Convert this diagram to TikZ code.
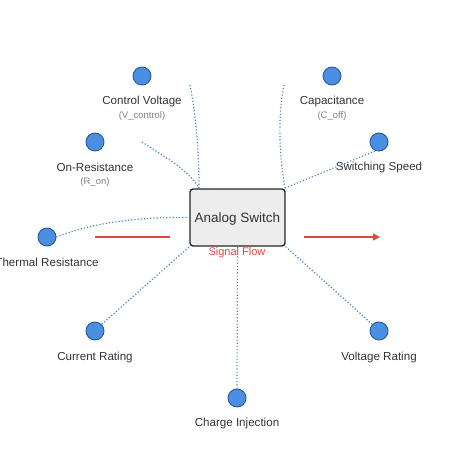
\documentclass[tikz,border=0pt]{standalone}
\usepackage{fontspec}
\setmainfont{Liberation Sans}
\usetikzlibrary{arrows.meta}
\definecolor{dotblue}{HTML}{4F86C6}
\definecolor{circfill}{HTML}{4A8FE2}
\definecolor{circedge}{HTML}{2A5A96}
\definecolor{sigred}{HTML}{E0483A}
\definecolor{txt}{HTML}{333333}
\definecolor{subtxt}{HTML}{808080}
\tikzset{
  param/.style={circle, draw=circedge, fill=circfill, line width=0.9pt, minimum size=18pt, inner sep=0pt},
  lbl/.style={text=txt, font=\fontsize{11.6}{13}\selectfont, inner sep=0pt},
  sublbl/.style={text=subtxt, font=\fontsize{9.5}{11}\selectfont, inner sep=0pt},
  link/.style={draw=dotblue, dotted, line width=1.2pt},
  switchbox/.style={draw=black!85, fill=black!7, rounded corners=3pt, line width=1.4pt, minimum width=95pt, minimum height=57pt, text=txt, font=\fontsize{13.5}{15}\selectfont},
  sig/.style={draw=sigred, line width=1.3pt}
}
\begin{document}
\begin{tikzpicture}[x=1pt,y=-1pt]
\useasboundingbox (0,0) rectangle (474,474);
\node[switchbox] (sw) at (237.5,217.5) {};
\node[text=txt, font=\fontsize{13.5}{15}\selectfont, inner sep=0pt] (swt) at (237.5,219.5) {Analog Switch};
\node[text=sigred, font=\fontsize{11}{12}\selectfont, inner sep=0pt] (sf) at (237,253) {Signal Flow};

\node[param] (cv) at (142,76) {};
\node[lbl] (cvl) at (142,101.5) {Control Voltage};
\node[sublbl] (cvs) at (142,116) {(V\_control)};

\node[param] (or) at (95,142) {};
\node[lbl] (orl) at (95,167.5) {On-Resistance};
\node[sublbl] (ors) at (95,182) {(R\_on)};

\node[param] (cap) at (332,76) {};
\node[lbl] (capl) at (332,101.5) {Capacitance};
\node[sublbl] (caps) at (332,116) {(C\_off)};

\node[param] (ss) at (379,142) {};
\node[lbl] (ssl) at (379,167.5) {Switching Speed};

\node[param] (tr) at (47,237) {};
\node[lbl] (trl) at (47,262.5) {Thermal Resistance};

\node[param] (cr) at (95,331) {};
\node[lbl] (crl) at (95,357.5) {Current Rating};

\node[param] (vr) at (379,331) {};
\node[lbl] (vrl) at (379,357.5) {Voltage Rating};

\node[param] (ci) at (237,398) {};
\node[lbl] (cil) at (237,423.5) {Charge Injection};

\coordinate (cvstart) at (190,85);
\coordinate (orstart) at (142,142);
\coordinate (capstart) at (284,85);
\coordinate (ssstart) at (378,150);
\coordinate (swtl) at (199,188);
\coordinate (swtr) at (285,188);

\path[link] (cvstart) .. controls (197,120) and (199,160) .. (swtl);
\path[link] (orstart) .. controls (170,160) and (190,172) .. (swtl);
\path[link] (capstart) .. controls (277,120) and (280,160) .. (swtr);
\path[link] (ssstart) .. controls (340,165) and (310,178) .. (swtr);
\path[link] (tr.east) .. controls (100,220) and (150,217) .. (sw.west);
\path[link] (cr.north east) -- (sw.south west);
\path[link] (vr.north west) -- (sw.south east);
\path[link] (sw.south) -- (ci.north);

\coordinate (sl1) at (95,237);
\coordinate (sl2) at (170,237);
\coordinate (sr1) at (304,237);
\coordinate (sr2) at (380,237);
\path[sig] (sl1) -- (sl2);
\path[sig, -{Triangle[length=7pt,width=7pt]}] (sr1) -- (sr2);
\end{tikzpicture}
\end{document}
